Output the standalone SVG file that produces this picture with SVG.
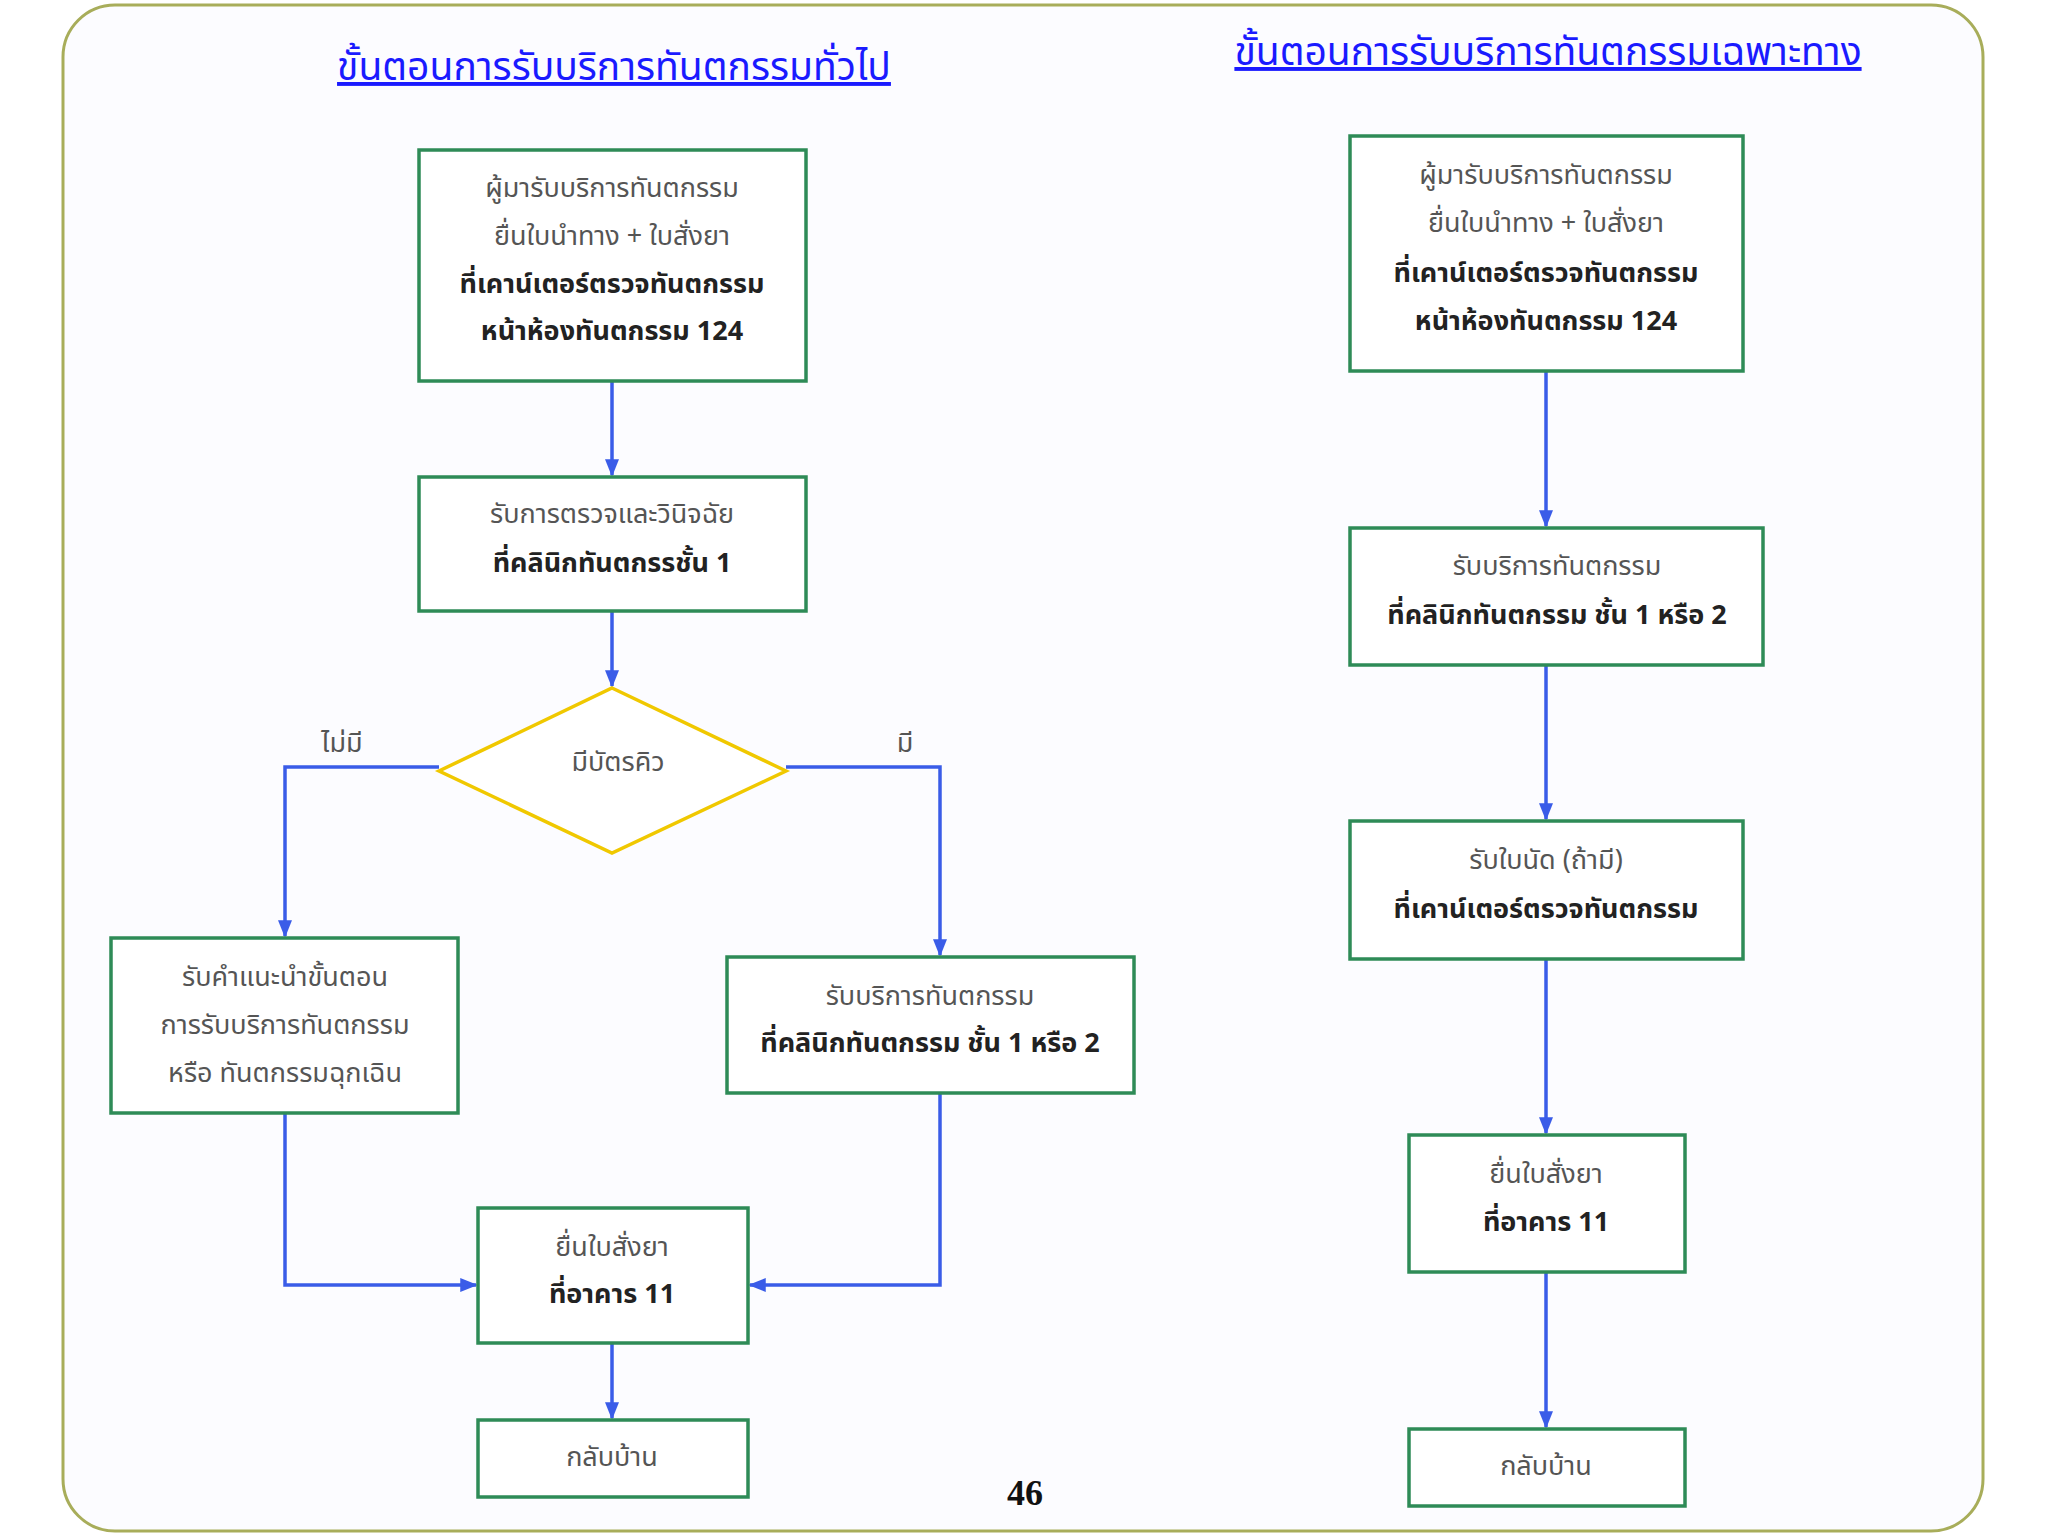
<svg xmlns="http://www.w3.org/2000/svg" width="2048" height="1536" viewBox="0 0 2048 1536">
<defs>
<marker id="ah" viewBox="0 0 10 10" refX="9" refY="5" markerWidth="5" markerHeight="5" orient="auto"><path d="M0,1 L10,5 L0,9 z" fill="#3a5ce8"/></marker>
<style>
.box{fill:#fff;stroke:#2e8b57;stroke-width:3.5}
.t{font-family:"Noto Sans Thai","Noto Sans","DejaVu Sans",sans-serif;font-size:27px;fill:#555;text-anchor:middle}
.b{font-weight:bold;fill:#222}
.title{font-family:"Noto Sans Thai","Noto Sans","DejaVu Sans",sans-serif;font-size:39px;fill:#1a1aff;text-anchor:middle;text-decoration:underline}
.c{fill:none;stroke:#3a5ce8;stroke-width:3.5;marker-end:url(#ah)}
</style>
</defs>
<rect width="2048" height="1536" fill="#fff"/>
<rect x="63" y="5" width="1920" height="1526" rx="52" fill="#fcfcff" stroke="#a8ad5a" stroke-width="3"/>
<text class="title" x="614" y="80">ขั้นตอนการรับบริการทันตกรรมทั่วไป</text>
<text class="title" x="1548" y="65">ขั้นตอนการรับบริการทันตกรรมเฉพาะทาง</text>
<g id="connectors">
<path class="c" d="M612,381 V475"/>
<path class="c" d="M612,611 V686"/>
<path class="c" d="M439,767 H285 V936"/>
<path class="c" d="M786,767 H940 V955"/>
<path class="c" d="M285,1113 V1285 H476"/>
<path class="c" d="M940,1093 V1285 H750"/>
<path class="c" d="M612,1343 V1418"/>
<path class="c" d="M1546,371 V526"/>
<path class="c" d="M1546,665 V819"/>
<path class="c" d="M1546,959 V1133"/>
<path class="c" d="M1546,1272 V1427"/>
</g>
<g id="L1"><rect class="box" x="419" y="150" width="387" height="231"/>
<text class="t" x="612" y="197">ผู้มารับบริการทันตกรรม</text>
<text class="t" x="612" y="245">ยื่นใบนำทาง + ใบสั่งยา</text>
<text class="t b" x="612" y="293">ที่เคาน์เตอร์ตรวจทันตกรรม</text>
<text class="t b" x="612" y="340">หน้าห้องทันตกรรม 124</text></g>
<g id="L2"><rect class="box" x="419" y="477" width="387" height="134"/>
<text class="t" x="612" y="523">รับการตรวจและวินิจฉัย</text>
<text class="t b" x="612" y="572">ที่คลินิกทันตกรรชั้น 1</text></g>
<g id="D"><polygon points="612,688 786,771 612,853 439,771" fill="#fff" stroke="#f0c800" stroke-width="3.5"/>
<text class="t" x="618" y="771">มีบัตรคิว</text></g>
<text class="t" x="342" y="752">ไม่มี</text>
<text class="t" x="905" y="752">มี</text>
<g id="L3"><rect class="box" x="111" y="938" width="347" height="175"/>
<text class="t" x="285" y="986">รับคำแนะนำขั้นตอน</text>
<text class="t" x="285" y="1034">การรับบริการทันตกรรม</text>
<text class="t" x="285" y="1082">หรือ ทันตกรรมฉุกเฉิน</text></g>
<g id="L4"><rect class="box" x="727" y="957" width="407" height="136"/>
<text class="t" x="930" y="1005">รับบริการทันตกรรม</text>
<text class="t b" x="930" y="1052">ที่คลินิกทันตกรรม ชั้น 1 หรือ 2</text></g>
<g id="L5"><rect class="box" x="478" y="1208" width="270" height="135"/>
<text class="t" x="612" y="1256">ยื่นใบสั่งยา</text>
<text class="t b" x="612" y="1303">ที่อาคาร 11</text></g>
<g id="L6"><rect class="box" x="478" y="1420" width="270" height="77"/>
<text class="t" x="612" y="1466">กลับบ้าน</text></g>
<text x="1025" y="1505" font-family="Liberation Serif,serif" font-weight="bold" font-size="36" text-anchor="middle" fill="#111">46</text>
<g id="R1"><rect class="box" x="1350" y="136" width="393" height="235"/>
<text class="t" x="1546" y="184">ผู้มารับบริการทันตกรรม</text>
<text class="t" x="1546" y="232">ยื่นใบนำทาง + ใบสั่งยา</text>
<text class="t b" x="1546" y="282">ที่เคาน์เตอร์ตรวจทันตกรรม</text>
<text class="t b" x="1546" y="330">หน้าห้องทันตกรรม 124</text></g>
<g id="R2"><rect class="box" x="1350" y="528" width="413" height="137"/>
<text class="t" x="1557" y="575">รับบริการทันตกรรม</text>
<text class="t b" x="1557" y="624">ที่คลินิกทันตกรรม ชั้น 1 หรือ 2</text></g>
<g id="R3"><rect class="box" x="1350" y="821" width="393" height="138"/>
<text class="t" x="1546" y="869">รับใบนัด (ถ้ามี)</text>
<text class="t b" x="1546" y="918">ที่เคาน์เตอร์ตรวจทันตกรรม</text></g>
<g id="R4"><rect class="box" x="1409" y="1135" width="276" height="137"/>
<text class="t" x="1546" y="1183">ยื่นใบสั่งยา</text>
<text class="t b" x="1546" y="1231">ที่อาคาร 11</text></g>
<g id="R5"><rect class="box" x="1409" y="1429" width="276" height="77"/>
<text class="t" x="1546" y="1475">กลับบ้าน</text></g>
</svg>
